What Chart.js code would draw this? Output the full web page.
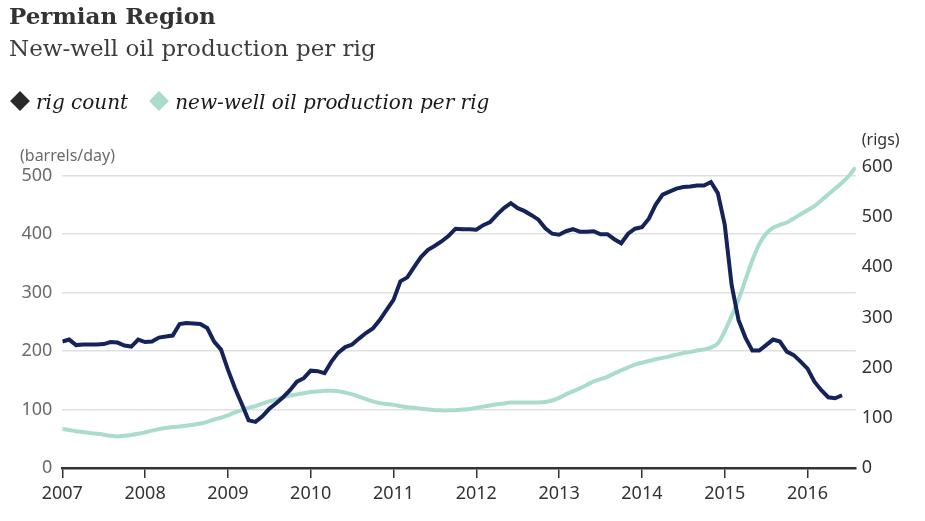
<!DOCTYPE html>
<html>
<head>
<meta charset="utf-8">
<script src="https://cdn.jsdelivr.net/npm/chart.js@4"></script>
<style>
  body { margin:0; background:#fff; }
  #wrap { position:relative; width:925px; height:521px; overflow:hidden; }
  #wrap canvas { position:absolute; left:0; top:0; }
  .hd { position:absolute; left:9px; white-space:nowrap; font-family:"DejaVu Serif", serif; }
  #title { top:2px; font-size:23px; font-weight:bold; color:#333; }
  #subtitle { top:35px; font-size:23px; color:#3c3c3c; }
  #legend { position:absolute; left:10px; top:90px; font-family:"DejaVu Serif", serif; font-style:italic; font-size:20px; color:#1a1a1a; white-space:nowrap; }
  #legend span.item { display:inline-block; margin-right:21px; }
  #legend i.dia { display:inline-block; width:14px; height:14px; transform:rotate(45deg); margin:0 9px 0 3px; vertical-align:1px; }
</style>
</head>
<body>
<div id="wrap">
  <canvas id="chart" width="925" height="521"></canvas>
  <div class="hd" id="title">Permian Region</div>
  <div class="hd" id="subtitle">New-well oil production per rig</div>
  <div id="legend"></div>
</div>
<script>
// monthly series, starting Jan 2007
const startYear = 2007;
const yearTicks = [2007, 2008, 2009, 2010, 2011, 2012, 2013, 2014, 2015, 2016];
const leftTicks = [0, 100, 200, 300, 400, 500];
const rightTicks = [0, 100, 200, 300, 400, 500, 600];
const seriesNames = ['rig count', 'new-well oil production per rig'];

// rigs (right axis)
const rigCount = [
  252,256,245,246,246,246,247,251,250,244,242,256,
  251,252,260,262,264,287,289,288,287,279,252,236,
  196,160,128,95,92,103,118,129,141,155,172,179,
  194,193,189,212,230,241,246,258,269,278,295,315,
  335,372,380,401,421,435,443,452,463,477,476,476,
  475,484,490,505,518,528,518,512,504,495,478,467,
  465,472,476,471,471,472,466,466,456,448,467,477,
  480,497,525,545,551,557,560,561,563,563,570,548,
  485,365,295,260,234,234,245,256,252,232,225,212,
  198,172,155,141,139,145
];

// barrels/day per rig (left axis)
const prodPerRig = [
  67,65,63,61.5,60,58.5,57,55,54,55,56.5,58.5,
  61,64,66.5,68.5,70,71,72.5,74,76,79,83,86,
  90,95,99,103,106,110,114,117,121,124,126,128,
  130,131,132,132,131.5,129,126,122,118,114,111,109.5,
  108,106,104,103,101.5,100,99,98.6,98.6,99,100,101,
  103,105,107,109,110.5,112,112,112,112,112,113,115.5,
  120,126,131,136.5,142,148,152,156,162,167,172,177,
  180,183,186,188.5,191,194,196.5,198.5,201,203,206,213,
  234,260,288,322,355,383,401,411,416,420,427,434,
  441,448,458,468,478,488,500,515
];

const rigColor = '#14235a';
const prodColor = '#a9dccb';
const legendColors = ['#2a2a2a', prodColor];

const toPoints = arr => arr.map((v, i) => ({x: startYear + i / 12, y: v}));

// legend
document.getElementById('legend').innerHTML = seriesNames.map((n, i) =>
  '<span class="item"><i class="dia" style="background:' + legendColors[i] + '"></i>' + n + '</span>').join('');

const axisTitles = {
  id: 'axisTitles',
  afterDraw(chart) {
    const ctx = chart.ctx, a = chart.chartArea;
    ctx.save();
    ctx.font = '16px "Noto Sans"';
    ctx.textBaseline = 'middle';
    ctx.textAlign = 'left';
    ctx.fillStyle = '#6b6b6b';
    ctx.fillText('(barrels/day)', 20, a.top - 11);
    ctx.fillStyle = '#333';
    ctx.fillText('(rigs)', chart.scales.y1.left + 6, a.top - 27);
    ctx.restore();
  }
};

const keepTicks = list => scale => { scale.ticks = list.map(v => ({value: v})); };

new Chart(document.getElementById('chart'), {
  type: 'line',
  data: {
    datasets: [
      { label: seriesNames[0], data: toPoints(rigCount), yAxisID: 'y1',
        borderColor: rigColor, borderWidth: 4, pointRadius: 0, tension: 0, fill: false },
      { label: seriesNames[1], data: toPoints(prodPerRig), yAxisID: 'y',
        borderColor: prodColor, borderWidth: 4, pointRadius: 0, tension: 0.3, fill: false }
    ]
  },
  options: {
    responsive: false,
    animation: false,
    layout: { padding: { top: 167, left: 0, right: 0, bottom: 0 } },
    plugins: { legend: { display: false }, title: { display: false }, tooltip: { enabled: false } },
    scales: {
      x: {
        type: 'linear', min: 2007, max: 2016.583,
        afterBuildTicks: keepTicks(yearTicks),
        afterFit: s => { s.height = 53; },
        ticks: { color: '#333', font: { family: 'Noto Sans', size: 18 }, padding: 5,
                 callback: v => String(v), maxRotation: 0, autoSkip: false },
        grid: { drawOnChartArea: false, drawTicks: true, tickLength: 10, color: '#333', lineWidth: 1.5 },
        border: { display: true, color: '#333', width: 2.5 }
      },
      y: {
        position: 'left', min: 0, max: 515,
        afterBuildTicks: keepTicks(leftTicks),
        afterFit: s => { s.width = 62.3; },
        ticks: { color: '#6b6b6b', font: { family: 'Noto Sans', size: 18 }, padding: 10 },
        grid: { color: '#e0e0e0', lineWidth: 1.5, drawTicks: false },
        border: { display: false }
      },
      y1: {
        position: 'right', min: 0, max: 600,
        afterBuildTicks: keepTicks(rightTicks),
        afterFit: s => { s.width = 69.2; },
        ticks: { color: '#333', font: { family: 'Noto Sans', size: 18 }, padding: 6 },
        grid: { display: false, drawTicks: false },
        border: { display: false }
      }
    }
  },
  plugins: [axisTitles]
});
</script>
</body>
</html>
